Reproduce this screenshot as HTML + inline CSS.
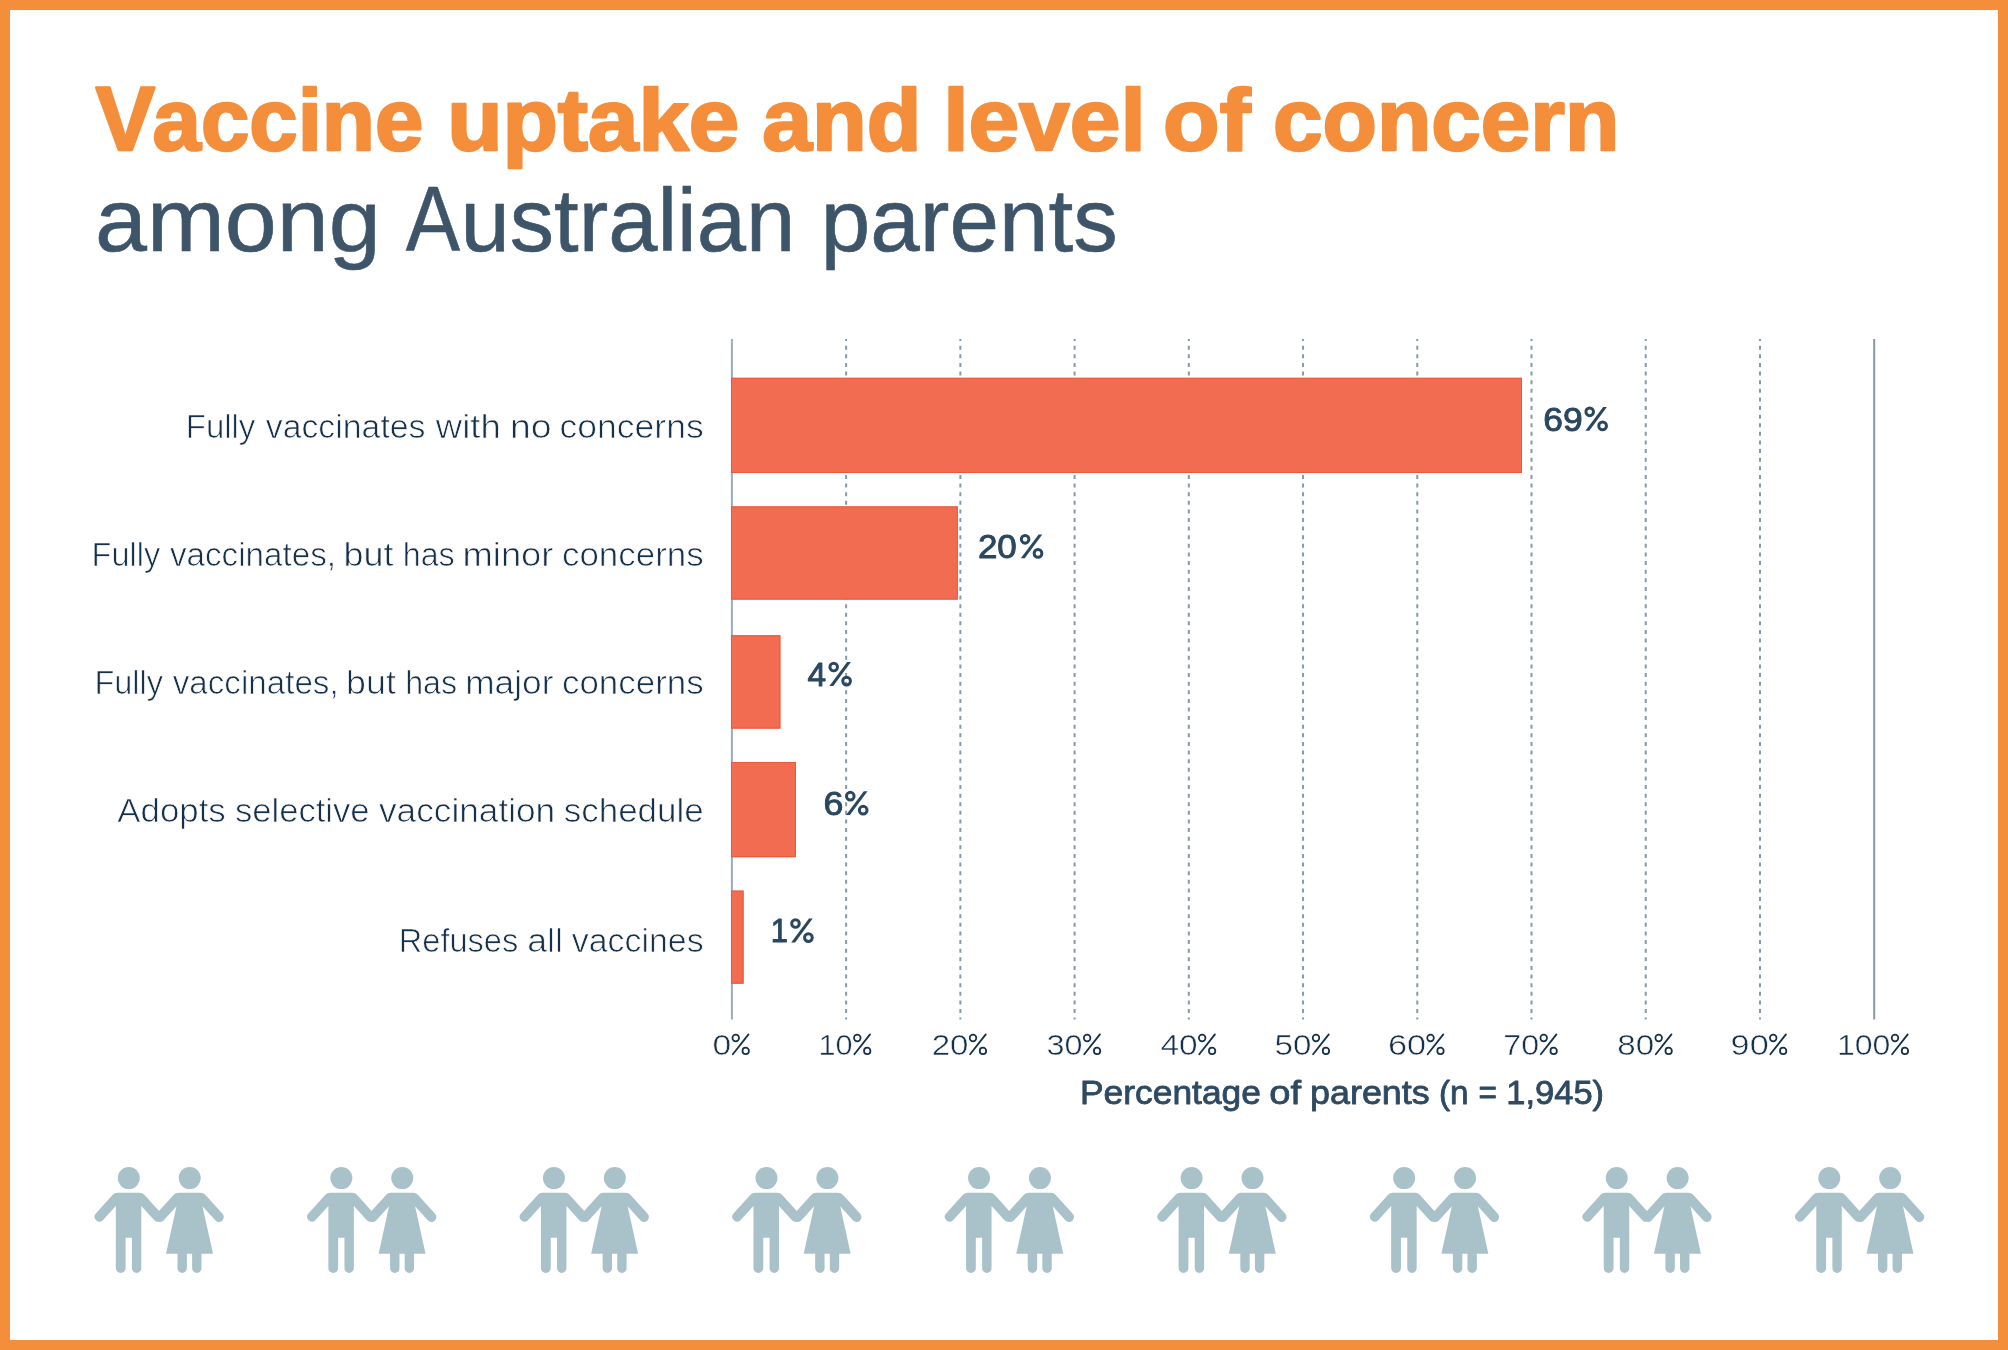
<!DOCTYPE html>
<html><head><meta charset="utf-8"><style>html,body{margin:0;padding:0;background:#fff;width:2008px;height:1350px;overflow:hidden;}svg{display:block;will-change:transform;}text{font-family:"Liberation Sans",sans-serif;}</style></head>
<body><svg width="2008" height="1350" viewBox="0 0 2008 1350" font-family="Liberation Sans, sans-serif">
<rect x="5" y="5" width="1998" height="1340" fill="none" stroke="#F48E3B" stroke-width="10"/>
<line x1="846.13" y1="339.1" x2="846.13" y2="1019.6" stroke="#8699A8" stroke-width="2" stroke-dasharray="4 4.614" stroke-dashoffset="2"/>
<line x1="960.36" y1="339.1" x2="960.36" y2="1019.6" stroke="#8699A8" stroke-width="2" stroke-dasharray="4 4.614" stroke-dashoffset="2"/>
<line x1="1074.59" y1="339.1" x2="1074.59" y2="1019.6" stroke="#8699A8" stroke-width="2" stroke-dasharray="4 4.614" stroke-dashoffset="2"/>
<line x1="1188.82" y1="339.1" x2="1188.82" y2="1019.6" stroke="#8699A8" stroke-width="2" stroke-dasharray="4 4.614" stroke-dashoffset="2"/>
<line x1="1303.05" y1="339.1" x2="1303.05" y2="1019.6" stroke="#8699A8" stroke-width="2" stroke-dasharray="4 4.614" stroke-dashoffset="2"/>
<line x1="1417.28" y1="339.1" x2="1417.28" y2="1019.6" stroke="#8699A8" stroke-width="2" stroke-dasharray="4 4.614" stroke-dashoffset="2"/>
<line x1="1531.51" y1="339.1" x2="1531.51" y2="1019.6" stroke="#8699A8" stroke-width="2" stroke-dasharray="4 4.614" stroke-dashoffset="2"/>
<line x1="1645.74" y1="339.1" x2="1645.74" y2="1019.6" stroke="#8699A8" stroke-width="2" stroke-dasharray="4 4.614" stroke-dashoffset="2"/>
<line x1="1759.97" y1="339.1" x2="1759.97" y2="1019.6" stroke="#8699A8" stroke-width="2" stroke-dasharray="4 4.614" stroke-dashoffset="2"/>
<line x1="1874.20" y1="339.1" x2="1874.20" y2="1019.6" stroke="#8699A8" stroke-width="2"/>
<line x1="731.90" y1="339.1" x2="731.90" y2="1019.6" stroke="#9BADB8" stroke-width="2"/>
<rect x="731" y="377.8" width="791.0" height="95.2" fill="#F16C51"/>
<rect x="731.5" y="378.3" width="790.0" height="94.2" fill="none" stroke="#EE5738" stroke-width="1"/>
<rect x="731" y="506.4" width="226.8" height="93.2" fill="#F16C51"/>
<rect x="731.5" y="506.9" width="225.8" height="92.2" fill="none" stroke="#EE5738" stroke-width="1"/>
<rect x="731" y="635.3" width="49.4" height="93.3" fill="#F16C51"/>
<rect x="731.5" y="635.8" width="48.4" height="92.3" fill="none" stroke="#EE5738" stroke-width="1"/>
<rect x="731" y="762" width="64.9" height="95.2" fill="#F16C51"/>
<rect x="731.5" y="762.5" width="63.9" height="94.2" fill="none" stroke="#EE5738" stroke-width="1"/>
<rect x="731" y="890.6" width="12.6" height="93.1" fill="#F16C51"/>
<rect x="731.5" y="891.1" width="11.6" height="92.1" fill="none" stroke="#EE5738" stroke-width="1"/>
<g style="opacity:0.999">
<text x="95.40" y="150.00" font-weight="700" font-size="91.3" fill="#F48E3B" stroke="#F48E3B" stroke-width="2.4" stroke-linejoin="round" textLength="59.66" lengthAdjust="spacingAndGlyphs">V</text>
<text x="152.54" y="150.00" font-weight="700" font-size="86.5" fill="#F48E3B" stroke="#F48E3B" stroke-width="2.4" stroke-linejoin="round" textLength="270.83" lengthAdjust="spacingAndGlyphs">accine</text>
<text x="447.15" y="150.00" font-weight="700" font-size="86.5" fill="#F48E3B" stroke="#F48E3B" stroke-width="2.4" stroke-linejoin="round" textLength="292.10" lengthAdjust="spacingAndGlyphs">uptake</text>
<text x="762.20" y="150.00" font-weight="700" font-size="86.5" fill="#F48E3B" stroke="#F48E3B" stroke-width="2.4" stroke-linejoin="round" textLength="159.23" lengthAdjust="spacingAndGlyphs">and</text>
<text x="943.21" y="150.00" font-weight="700" font-size="86.5" fill="#F48E3B" stroke="#F48E3B" stroke-width="2.4" stroke-linejoin="round" textLength="202.47" lengthAdjust="spacingAndGlyphs">level</text>
<text x="1163.11" y="150.00" font-weight="700" font-size="86.5" fill="#F48E3B" stroke="#F48E3B" stroke-width="2.4" stroke-linejoin="round" textLength="87.40" lengthAdjust="spacingAndGlyphs">of</text>
<text x="1273.02" y="150.00" font-weight="700" font-size="86.5" fill="#F48E3B" stroke="#F48E3B" stroke-width="2.4" stroke-linejoin="round" textLength="346.28" lengthAdjust="spacingAndGlyphs">concern</text>
<text x="405.80" y="251.20" font-weight="400" font-size="92.9" fill="#3E5569" stroke="#3E5569" stroke-width="0.6" stroke-linejoin="round" textLength="54.40" lengthAdjust="spacingAndGlyphs">A</text>
<text x="95.08" y="251.20" font-weight="400" font-size="88.5" fill="#3E5569" stroke="#3E5569" stroke-width="0.6" stroke-linejoin="round" textLength="285.67" lengthAdjust="spacingAndGlyphs">among</text>
<text x="460.46" y="251.20" font-weight="400" font-size="88.5" fill="#3E5569" stroke="#3E5569" stroke-width="0.6" stroke-linejoin="round" textLength="334.91" lengthAdjust="spacingAndGlyphs">ustralian</text>
<text x="820.84" y="251.20" font-weight="400" font-size="88.5" fill="#3E5569" stroke="#3E5569" stroke-width="0.6" stroke-linejoin="round" textLength="296.95" lengthAdjust="spacingAndGlyphs">parents</text>
<text x="185.78" y="437.80" font-weight="400" font-size="32.5" fill="#15304A" stroke="#fff" stroke-width="0.7" textLength="69.57" lengthAdjust="spacingAndGlyphs">Fully</text>
<text x="265.75" y="437.80" font-weight="400" font-size="32.5" fill="#15304A" stroke="#fff" stroke-width="0.7" textLength="159.76" lengthAdjust="spacingAndGlyphs">vaccinates</text>
<text x="435.82" y="437.80" font-weight="400" font-size="32.5" fill="#15304A" stroke="#fff" stroke-width="0.7" textLength="64.88" lengthAdjust="spacingAndGlyphs">with</text>
<text x="509.92" y="437.80" font-weight="400" font-size="32.5" fill="#15304A" stroke="#fff" stroke-width="0.7" textLength="41.55" lengthAdjust="spacingAndGlyphs">no</text>
<text x="559.64" y="437.80" font-weight="400" font-size="32.5" fill="#15304A" stroke="#fff" stroke-width="0.7" textLength="144.02" lengthAdjust="spacingAndGlyphs">concerns</text>
<text x="91.61" y="565.90" font-weight="400" font-size="32.5" fill="#15304A" stroke="#fff" stroke-width="0.7" textLength="68.54" lengthAdjust="spacingAndGlyphs">Fully</text>
<text x="169.95" y="565.90" font-weight="400" font-size="32.5" fill="#15304A" stroke="#fff" stroke-width="0.7" textLength="166.08" lengthAdjust="spacingAndGlyphs">vaccinates,</text>
<text x="343.61" y="565.90" font-weight="400" font-size="32.5" fill="#15304A" stroke="#fff" stroke-width="0.7" textLength="49.92" lengthAdjust="spacingAndGlyphs">but</text>
<text x="402.73" y="565.90" font-weight="400" font-size="32.5" fill="#15304A" stroke="#fff" stroke-width="0.7" textLength="52.03" lengthAdjust="spacingAndGlyphs">has</text>
<text x="462.58" y="565.90" font-weight="400" font-size="32.5" fill="#15304A" stroke="#fff" stroke-width="0.7" textLength="90.85" lengthAdjust="spacingAndGlyphs">minor</text>
<text x="561.96" y="565.90" font-weight="400" font-size="32.5" fill="#15304A" stroke="#fff" stroke-width="0.7" textLength="141.68" lengthAdjust="spacingAndGlyphs">concerns</text>
<text x="94.41" y="693.60" font-weight="400" font-size="32.5" fill="#15304A" stroke="#fff" stroke-width="0.7" textLength="68.54" lengthAdjust="spacingAndGlyphs">Fully</text>
<text x="172.75" y="693.60" font-weight="400" font-size="32.5" fill="#15304A" stroke="#fff" stroke-width="0.7" textLength="165.88" lengthAdjust="spacingAndGlyphs">vaccinates,</text>
<text x="346.11" y="693.60" font-weight="400" font-size="32.5" fill="#15304A" stroke="#fff" stroke-width="0.7" textLength="49.71" lengthAdjust="spacingAndGlyphs">but</text>
<text x="405.14" y="693.60" font-weight="400" font-size="32.5" fill="#15304A" stroke="#fff" stroke-width="0.7" textLength="51.92" lengthAdjust="spacingAndGlyphs">has</text>
<text x="465.25" y="693.60" font-weight="400" font-size="32.5" fill="#15304A" stroke="#fff" stroke-width="0.7" textLength="88.18" lengthAdjust="spacingAndGlyphs">major</text>
<text x="561.96" y="693.60" font-weight="400" font-size="32.5" fill="#15304A" stroke="#fff" stroke-width="0.7" textLength="141.68" lengthAdjust="spacingAndGlyphs">concerns</text>
<text x="117.35" y="821.80" font-weight="400" font-size="32.5" fill="#15304A" stroke="#fff" stroke-width="0.7" textLength="108.39" lengthAdjust="spacingAndGlyphs">Adopts</text>
<text x="234.91" y="821.80" font-weight="400" font-size="32.5" fill="#15304A" stroke="#fff" stroke-width="0.7" textLength="134.64" lengthAdjust="spacingAndGlyphs">selective</text>
<text x="378.95" y="821.80" font-weight="400" font-size="32.5" fill="#15304A" stroke="#fff" stroke-width="0.7" textLength="176.28" lengthAdjust="spacingAndGlyphs">vaccination</text>
<text x="563.80" y="821.80" font-weight="400" font-size="32.5" fill="#15304A" stroke="#fff" stroke-width="0.7" textLength="139.86" lengthAdjust="spacingAndGlyphs">schedule</text>
<text x="398.81" y="951.50" font-weight="400" font-size="32.5" fill="#15304A" stroke="#fff" stroke-width="0.7" textLength="119.36" lengthAdjust="spacingAndGlyphs">Refuses</text>
<text x="527.23" y="951.50" font-weight="400" font-size="32.5" fill="#15304A" stroke="#fff" stroke-width="0.7" textLength="35.77" lengthAdjust="spacingAndGlyphs">all</text>
<text x="571.85" y="951.50" font-weight="400" font-size="32.5" fill="#15304A" stroke="#fff" stroke-width="0.7" textLength="131.76" lengthAdjust="spacingAndGlyphs">vaccines</text>
<text x="1543.19" y="430.55" font-weight="400" font-size="33.5" fill="#2A4760" stroke="#2A4760" stroke-width="0.9" stroke-linejoin="round" textLength="39.40" lengthAdjust="spacingAndGlyphs">69</text>
<text x="977.91" y="558.05" font-weight="400" font-size="33.5" fill="#2A4760" stroke="#2A4760" stroke-width="0.9" stroke-linejoin="round" textLength="38.91" lengthAdjust="spacingAndGlyphs">20</text>
<text x="807.53" y="685.75" font-weight="400" font-size="33.5" fill="#2A4760" stroke="#2A4760" stroke-width="0.9" stroke-linejoin="round" textLength="18.66" lengthAdjust="spacingAndGlyphs">4</text>
<text x="823.57" y="814.85" font-weight="400" font-size="33.5" fill="#2A4760" stroke="#2A4760" stroke-width="0.9" stroke-linejoin="round" textLength="19.93" lengthAdjust="spacingAndGlyphs">6</text>
<text x="770.72" y="942.25" font-weight="400" font-size="33.5" fill="#2A4760" stroke="#2A4760" stroke-width="0.9" stroke-linejoin="round" textLength="17.18" lengthAdjust="spacingAndGlyphs">1</text>
<text x="1080.04" y="1103.90" font-weight="400" font-size="33" fill="#2E4A62" stroke="#2E4A62" stroke-width="0.8" stroke-linejoin="round" textLength="180.90" lengthAdjust="spacingAndGlyphs">Percentage</text>
<text x="1269.21" y="1103.90" font-weight="400" font-size="33" fill="#2E4A62" stroke="#2E4A62" stroke-width="0.8" stroke-linejoin="round" textLength="31.86" lengthAdjust="spacingAndGlyphs">of</text>
<text x="1310.06" y="1103.90" font-weight="400" font-size="33" fill="#2E4A62" stroke="#2E4A62" stroke-width="0.8" stroke-linejoin="round" textLength="119.66" lengthAdjust="spacingAndGlyphs">parents</text>
<text x="1438.94" y="1103.90" font-weight="400" font-size="33" fill="#2E4A62" stroke="#2E4A62" stroke-width="0.8" stroke-linejoin="round" textLength="29.63" lengthAdjust="spacingAndGlyphs">(n</text>
<text x="1478.42" y="1103.90" font-weight="400" font-size="33" fill="#2E4A62" stroke="#2E4A62" stroke-width="0.8" stroke-linejoin="round" textLength="18.45" lengthAdjust="spacingAndGlyphs">=</text>
<text x="1506.24" y="1103.90" font-weight="400" font-size="33" fill="#2E4A62" stroke="#2E4A62" stroke-width="0.8" stroke-linejoin="round" textLength="97.84" lengthAdjust="spacingAndGlyphs">1,945)</text>
<text x="712.50" y="1055.30" font-weight="400" font-size="30" fill="#15304A" stroke="#fff" stroke-width="0.5" textLength="18.69" lengthAdjust="spacingAndGlyphs">0</text>
<text x="818.57" y="1055.30" font-weight="400" font-size="30" fill="#15304A" stroke="#fff" stroke-width="0.5" textLength="34.08" lengthAdjust="spacingAndGlyphs">10</text>
<text x="931.66" y="1055.30" font-weight="400" font-size="30" fill="#15304A" stroke="#fff" stroke-width="0.5" textLength="36.77" lengthAdjust="spacingAndGlyphs">20</text>
<text x="1046.53" y="1055.30" font-weight="400" font-size="30" fill="#15304A" stroke="#fff" stroke-width="0.5" textLength="36.02" lengthAdjust="spacingAndGlyphs">30</text>
<text x="1160.45" y="1055.30" font-weight="400" font-size="30" fill="#15304A" stroke="#fff" stroke-width="0.5" textLength="37.15" lengthAdjust="spacingAndGlyphs">40</text>
<text x="1274.56" y="1055.30" font-weight="400" font-size="30" fill="#15304A" stroke="#fff" stroke-width="0.5" textLength="36.86" lengthAdjust="spacingAndGlyphs">50</text>
<text x="1387.93" y="1055.30" font-weight="400" font-size="30" fill="#15304A" stroke="#fff" stroke-width="0.5" textLength="38.06" lengthAdjust="spacingAndGlyphs">60</text>
<text x="1503.30" y="1055.30" font-weight="400" font-size="30" fill="#15304A" stroke="#fff" stroke-width="0.5" textLength="35.81" lengthAdjust="spacingAndGlyphs">70</text>
<text x="1617.25" y="1055.30" font-weight="400" font-size="30" fill="#15304A" stroke="#fff" stroke-width="0.5" textLength="36.86" lengthAdjust="spacingAndGlyphs">80</text>
<text x="1730.62" y="1055.30" font-weight="400" font-size="30" fill="#15304A" stroke="#fff" stroke-width="0.5" textLength="38.06" lengthAdjust="spacingAndGlyphs">90</text>
<text x="1836.90" y="1055.30" font-weight="400" font-size="30" fill="#15304A" stroke="#fff" stroke-width="0.5" textLength="53.50" lengthAdjust="spacingAndGlyphs">100</text>
</g>
<g transform="translate(1584.00,431.00)" fill="none" stroke="#2A4760"><circle cx="5.7" cy="-19.15" r="3.8" stroke-width="2.95"/><circle cx="18.6" cy="-5.1" r="3.87" stroke-width="2.95"/><path d="M19.2 -24.1 L22.9 -24.1 L5.3 -0.3 L1.4 -0.3 Z" fill="#2A4760" stroke="none"/></g>
<g transform="translate(1019.40,558.50)" fill="none" stroke="#2A4760"><circle cx="5.7" cy="-19.15" r="3.8" stroke-width="2.95"/><circle cx="18.6" cy="-5.1" r="3.87" stroke-width="2.95"/><path d="M19.2 -24.1 L22.9 -24.1 L5.3 -0.3 L1.4 -0.3 Z" fill="#2A4760" stroke="none"/></g>
<g transform="translate(828.00,686.20)" fill="none" stroke="#2A4760"><circle cx="5.7" cy="-19.15" r="3.8" stroke-width="2.95"/><circle cx="18.6" cy="-5.1" r="3.87" stroke-width="2.95"/><path d="M19.2 -24.1 L22.9 -24.1 L5.3 -0.3 L1.4 -0.3 Z" fill="#2A4760" stroke="none"/></g>
<g transform="translate(844.60,815.30)" fill="none" stroke="#2A4760"><circle cx="5.7" cy="-19.15" r="3.8" stroke-width="2.95"/><circle cx="18.6" cy="-5.1" r="3.87" stroke-width="2.95"/><path d="M19.2 -24.1 L22.9 -24.1 L5.3 -0.3 L1.4 -0.3 Z" fill="#2A4760" stroke="none"/></g>
<g transform="translate(789.80,942.70)" fill="none" stroke="#2A4760"><circle cx="5.7" cy="-19.15" r="3.8" stroke-width="2.95"/><circle cx="18.6" cy="-5.1" r="3.87" stroke-width="2.95"/><path d="M19.2 -24.1 L22.9 -24.1 L5.3 -0.3 L1.4 -0.3 Z" fill="#2A4760" stroke="none"/></g>
<g transform="translate(750.00,1055.30)" fill="none" stroke="#15304A"><circle cx="-14.25" cy="-17.32" r="3.3" stroke-width="1.7"/><circle cx="-4.3" cy="-4.36" r="3.2" stroke-width="1.75"/><path d="M-1.5 -20.95 L-17.15 -1.04" stroke-width="1.8" stroke-linecap="round"/></g>
<g transform="translate(871.53,1055.30)" fill="none" stroke="#15304A"><circle cx="-14.25" cy="-17.32" r="3.3" stroke-width="1.7"/><circle cx="-4.3" cy="-4.36" r="3.2" stroke-width="1.75"/><path d="M-1.5 -20.95 L-17.15 -1.04" stroke-width="1.8" stroke-linecap="round"/></g>
<g transform="translate(987.26,1055.30)" fill="none" stroke="#15304A"><circle cx="-14.25" cy="-17.32" r="3.3" stroke-width="1.7"/><circle cx="-4.3" cy="-4.36" r="3.2" stroke-width="1.75"/><path d="M-1.5 -20.95 L-17.15 -1.04" stroke-width="1.8" stroke-linecap="round"/></g>
<g transform="translate(1101.39,1055.30)" fill="none" stroke="#15304A"><circle cx="-14.25" cy="-17.32" r="3.3" stroke-width="1.7"/><circle cx="-4.3" cy="-4.36" r="3.2" stroke-width="1.75"/><path d="M-1.5 -20.95 L-17.15 -1.04" stroke-width="1.8" stroke-linecap="round"/></g>
<g transform="translate(1216.42,1055.30)" fill="none" stroke="#15304A"><circle cx="-14.25" cy="-17.32" r="3.3" stroke-width="1.7"/><circle cx="-4.3" cy="-4.36" r="3.2" stroke-width="1.75"/><path d="M-1.5 -20.95 L-17.15 -1.04" stroke-width="1.8" stroke-linecap="round"/></g>
<g transform="translate(1330.25,1055.30)" fill="none" stroke="#15304A"><circle cx="-14.25" cy="-17.32" r="3.3" stroke-width="1.7"/><circle cx="-4.3" cy="-4.36" r="3.2" stroke-width="1.75"/><path d="M-1.5 -20.95 L-17.15 -1.04" stroke-width="1.8" stroke-linecap="round"/></g>
<g transform="translate(1444.78,1055.30)" fill="none" stroke="#15304A"><circle cx="-14.25" cy="-17.32" r="3.3" stroke-width="1.7"/><circle cx="-4.3" cy="-4.36" r="3.2" stroke-width="1.75"/><path d="M-1.5 -20.95 L-17.15 -1.04" stroke-width="1.8" stroke-linecap="round"/></g>
<g transform="translate(1557.96,1055.30)" fill="none" stroke="#15304A"><circle cx="-14.25" cy="-17.32" r="3.3" stroke-width="1.7"/><circle cx="-4.3" cy="-4.36" r="3.2" stroke-width="1.75"/><path d="M-1.5 -20.95 L-17.15 -1.04" stroke-width="1.8" stroke-linecap="round"/></g>
<g transform="translate(1672.94,1055.30)" fill="none" stroke="#15304A"><circle cx="-14.25" cy="-17.32" r="3.3" stroke-width="1.7"/><circle cx="-4.3" cy="-4.36" r="3.2" stroke-width="1.75"/><path d="M-1.5 -20.95 L-17.15 -1.04" stroke-width="1.8" stroke-linecap="round"/></g>
<g transform="translate(1787.47,1055.30)" fill="none" stroke="#15304A"><circle cx="-14.25" cy="-17.32" r="3.3" stroke-width="1.7"/><circle cx="-4.3" cy="-4.36" r="3.2" stroke-width="1.75"/><path d="M-1.5 -20.95 L-17.15 -1.04" stroke-width="1.8" stroke-linecap="round"/></g>
<g transform="translate(1909.25,1055.30)" fill="none" stroke="#15304A"><circle cx="-14.25" cy="-17.32" r="3.3" stroke-width="1.7"/><circle cx="-4.3" cy="-4.36" r="3.2" stroke-width="1.75"/><path d="M-1.5 -20.95 L-17.15 -1.04" stroke-width="1.8" stroke-linecap="round"/></g>
<g transform="translate(85.00,1155)" fill="#A9C2CA">
<circle cx="43.8" cy="23.1" r="11"/>
<circle cx="104.7" cy="23.1" r="11"/>
<path d="M27.5 40 Q29.5 37.8 32.5 37.8 L54.6 37.8 Q57.6 37.8 59.6 40 L76.5 58.7 A4.9 4.9 0 0 1 69.3 65.3 L56.3 51 L56.3 113.2 A4.7 4.7 0 0 1 46.9 113.2 L46.9 82.8 L40.6 82.8 L40.6 113 A4.9 4.9 0 0 1 30.8 113 L30.8 51 L17.8 65.3 A4.9 4.9 0 0 1 10.6 58.7 Z"/>
<path d="M88.5 40 Q90.5 37.8 93.5 37.8 L115.5 37.8 Q118.5 37.8 120.5 40 L137.5 58.7 A4.9 4.9 0 0 1 130.2 65.3 L117.5 51.3 L128 98.7 L116.5 98.7 L116.5 113.2 A4.7 4.7 0 0 1 107.1 113.2 L107.1 98.7 L101.9 98.7 L101.9 113.2 A4.7 4.7 0 0 1 92.5 113.2 L92.5 98.7 L81 98.7 L91.5 51.3 L78.8 65.3 A4.9 4.9 0 0 1 71.5 58.7 Z"/>
</g>
<g transform="translate(297.56,1155)" fill="#A9C2CA">
<circle cx="43.8" cy="23.1" r="11"/>
<circle cx="104.7" cy="23.1" r="11"/>
<path d="M27.5 40 Q29.5 37.8 32.5 37.8 L54.6 37.8 Q57.6 37.8 59.6 40 L76.5 58.7 A4.9 4.9 0 0 1 69.3 65.3 L56.3 51 L56.3 113.2 A4.7 4.7 0 0 1 46.9 113.2 L46.9 82.8 L40.6 82.8 L40.6 113 A4.9 4.9 0 0 1 30.8 113 L30.8 51 L17.8 65.3 A4.9 4.9 0 0 1 10.6 58.7 Z"/>
<path d="M88.5 40 Q90.5 37.8 93.5 37.8 L115.5 37.8 Q118.5 37.8 120.5 40 L137.5 58.7 A4.9 4.9 0 0 1 130.2 65.3 L117.5 51.3 L128 98.7 L116.5 98.7 L116.5 113.2 A4.7 4.7 0 0 1 107.1 113.2 L107.1 98.7 L101.9 98.7 L101.9 113.2 A4.7 4.7 0 0 1 92.5 113.2 L92.5 98.7 L81 98.7 L91.5 51.3 L78.8 65.3 A4.9 4.9 0 0 1 71.5 58.7 Z"/>
</g>
<g transform="translate(510.12,1155)" fill="#A9C2CA">
<circle cx="43.8" cy="23.1" r="11"/>
<circle cx="104.7" cy="23.1" r="11"/>
<path d="M27.5 40 Q29.5 37.8 32.5 37.8 L54.6 37.8 Q57.6 37.8 59.6 40 L76.5 58.7 A4.9 4.9 0 0 1 69.3 65.3 L56.3 51 L56.3 113.2 A4.7 4.7 0 0 1 46.9 113.2 L46.9 82.8 L40.6 82.8 L40.6 113 A4.9 4.9 0 0 1 30.8 113 L30.8 51 L17.8 65.3 A4.9 4.9 0 0 1 10.6 58.7 Z"/>
<path d="M88.5 40 Q90.5 37.8 93.5 37.8 L115.5 37.8 Q118.5 37.8 120.5 40 L137.5 58.7 A4.9 4.9 0 0 1 130.2 65.3 L117.5 51.3 L128 98.7 L116.5 98.7 L116.5 113.2 A4.7 4.7 0 0 1 107.1 113.2 L107.1 98.7 L101.9 98.7 L101.9 113.2 A4.7 4.7 0 0 1 92.5 113.2 L92.5 98.7 L81 98.7 L91.5 51.3 L78.8 65.3 A4.9 4.9 0 0 1 71.5 58.7 Z"/>
</g>
<g transform="translate(722.68,1155)" fill="#A9C2CA">
<circle cx="43.8" cy="23.1" r="11"/>
<circle cx="104.7" cy="23.1" r="11"/>
<path d="M27.5 40 Q29.5 37.8 32.5 37.8 L54.6 37.8 Q57.6 37.8 59.6 40 L76.5 58.7 A4.9 4.9 0 0 1 69.3 65.3 L56.3 51 L56.3 113.2 A4.7 4.7 0 0 1 46.9 113.2 L46.9 82.8 L40.6 82.8 L40.6 113 A4.9 4.9 0 0 1 30.8 113 L30.8 51 L17.8 65.3 A4.9 4.9 0 0 1 10.6 58.7 Z"/>
<path d="M88.5 40 Q90.5 37.8 93.5 37.8 L115.5 37.8 Q118.5 37.8 120.5 40 L137.5 58.7 A4.9 4.9 0 0 1 130.2 65.3 L117.5 51.3 L128 98.7 L116.5 98.7 L116.5 113.2 A4.7 4.7 0 0 1 107.1 113.2 L107.1 98.7 L101.9 98.7 L101.9 113.2 A4.7 4.7 0 0 1 92.5 113.2 L92.5 98.7 L81 98.7 L91.5 51.3 L78.8 65.3 A4.9 4.9 0 0 1 71.5 58.7 Z"/>
</g>
<g transform="translate(935.24,1155)" fill="#A9C2CA">
<circle cx="43.8" cy="23.1" r="11"/>
<circle cx="104.7" cy="23.1" r="11"/>
<path d="M27.5 40 Q29.5 37.8 32.5 37.8 L54.6 37.8 Q57.6 37.8 59.6 40 L76.5 58.7 A4.9 4.9 0 0 1 69.3 65.3 L56.3 51 L56.3 113.2 A4.7 4.7 0 0 1 46.9 113.2 L46.9 82.8 L40.6 82.8 L40.6 113 A4.9 4.9 0 0 1 30.8 113 L30.8 51 L17.8 65.3 A4.9 4.9 0 0 1 10.6 58.7 Z"/>
<path d="M88.5 40 Q90.5 37.8 93.5 37.8 L115.5 37.8 Q118.5 37.8 120.5 40 L137.5 58.7 A4.9 4.9 0 0 1 130.2 65.3 L117.5 51.3 L128 98.7 L116.5 98.7 L116.5 113.2 A4.7 4.7 0 0 1 107.1 113.2 L107.1 98.7 L101.9 98.7 L101.9 113.2 A4.7 4.7 0 0 1 92.5 113.2 L92.5 98.7 L81 98.7 L91.5 51.3 L78.8 65.3 A4.9 4.9 0 0 1 71.5 58.7 Z"/>
</g>
<g transform="translate(1147.80,1155)" fill="#A9C2CA">
<circle cx="43.8" cy="23.1" r="11"/>
<circle cx="104.7" cy="23.1" r="11"/>
<path d="M27.5 40 Q29.5 37.8 32.5 37.8 L54.6 37.8 Q57.6 37.8 59.6 40 L76.5 58.7 A4.9 4.9 0 0 1 69.3 65.3 L56.3 51 L56.3 113.2 A4.7 4.7 0 0 1 46.9 113.2 L46.9 82.8 L40.6 82.8 L40.6 113 A4.9 4.9 0 0 1 30.8 113 L30.8 51 L17.8 65.3 A4.9 4.9 0 0 1 10.6 58.7 Z"/>
<path d="M88.5 40 Q90.5 37.8 93.5 37.8 L115.5 37.8 Q118.5 37.8 120.5 40 L137.5 58.7 A4.9 4.9 0 0 1 130.2 65.3 L117.5 51.3 L128 98.7 L116.5 98.7 L116.5 113.2 A4.7 4.7 0 0 1 107.1 113.2 L107.1 98.7 L101.9 98.7 L101.9 113.2 A4.7 4.7 0 0 1 92.5 113.2 L92.5 98.7 L81 98.7 L91.5 51.3 L78.8 65.3 A4.9 4.9 0 0 1 71.5 58.7 Z"/>
</g>
<g transform="translate(1360.36,1155)" fill="#A9C2CA">
<circle cx="43.8" cy="23.1" r="11"/>
<circle cx="104.7" cy="23.1" r="11"/>
<path d="M27.5 40 Q29.5 37.8 32.5 37.8 L54.6 37.8 Q57.6 37.8 59.6 40 L76.5 58.7 A4.9 4.9 0 0 1 69.3 65.3 L56.3 51 L56.3 113.2 A4.7 4.7 0 0 1 46.9 113.2 L46.9 82.8 L40.6 82.8 L40.6 113 A4.9 4.9 0 0 1 30.8 113 L30.8 51 L17.8 65.3 A4.9 4.9 0 0 1 10.6 58.7 Z"/>
<path d="M88.5 40 Q90.5 37.8 93.5 37.8 L115.5 37.8 Q118.5 37.8 120.5 40 L137.5 58.7 A4.9 4.9 0 0 1 130.2 65.3 L117.5 51.3 L128 98.7 L116.5 98.7 L116.5 113.2 A4.7 4.7 0 0 1 107.1 113.2 L107.1 98.7 L101.9 98.7 L101.9 113.2 A4.7 4.7 0 0 1 92.5 113.2 L92.5 98.7 L81 98.7 L91.5 51.3 L78.8 65.3 A4.9 4.9 0 0 1 71.5 58.7 Z"/>
</g>
<g transform="translate(1572.92,1155)" fill="#A9C2CA">
<circle cx="43.8" cy="23.1" r="11"/>
<circle cx="104.7" cy="23.1" r="11"/>
<path d="M27.5 40 Q29.5 37.8 32.5 37.8 L54.6 37.8 Q57.6 37.8 59.6 40 L76.5 58.7 A4.9 4.9 0 0 1 69.3 65.3 L56.3 51 L56.3 113.2 A4.7 4.7 0 0 1 46.9 113.2 L46.9 82.8 L40.6 82.8 L40.6 113 A4.9 4.9 0 0 1 30.8 113 L30.8 51 L17.8 65.3 A4.9 4.9 0 0 1 10.6 58.7 Z"/>
<path d="M88.5 40 Q90.5 37.8 93.5 37.8 L115.5 37.8 Q118.5 37.8 120.5 40 L137.5 58.7 A4.9 4.9 0 0 1 130.2 65.3 L117.5 51.3 L128 98.7 L116.5 98.7 L116.5 113.2 A4.7 4.7 0 0 1 107.1 113.2 L107.1 98.7 L101.9 98.7 L101.9 113.2 A4.7 4.7 0 0 1 92.5 113.2 L92.5 98.7 L81 98.7 L91.5 51.3 L78.8 65.3 A4.9 4.9 0 0 1 71.5 58.7 Z"/>
</g>
<g transform="translate(1785.48,1155)" fill="#A9C2CA">
<circle cx="43.8" cy="23.1" r="11"/>
<circle cx="104.7" cy="23.1" r="11"/>
<path d="M27.5 40 Q29.5 37.8 32.5 37.8 L54.6 37.8 Q57.6 37.8 59.6 40 L76.5 58.7 A4.9 4.9 0 0 1 69.3 65.3 L56.3 51 L56.3 113.2 A4.7 4.7 0 0 1 46.9 113.2 L46.9 82.8 L40.6 82.8 L40.6 113 A4.9 4.9 0 0 1 30.8 113 L30.8 51 L17.8 65.3 A4.9 4.9 0 0 1 10.6 58.7 Z"/>
<path d="M88.5 40 Q90.5 37.8 93.5 37.8 L115.5 37.8 Q118.5 37.8 120.5 40 L137.5 58.7 A4.9 4.9 0 0 1 130.2 65.3 L117.5 51.3 L128 98.7 L116.5 98.7 L116.5 113.2 A4.7 4.7 0 0 1 107.1 113.2 L107.1 98.7 L101.9 98.7 L101.9 113.2 A4.7 4.7 0 0 1 92.5 113.2 L92.5 98.7 L81 98.7 L91.5 51.3 L78.8 65.3 A4.9 4.9 0 0 1 71.5 58.7 Z"/>
</g>
</svg></body></html>
